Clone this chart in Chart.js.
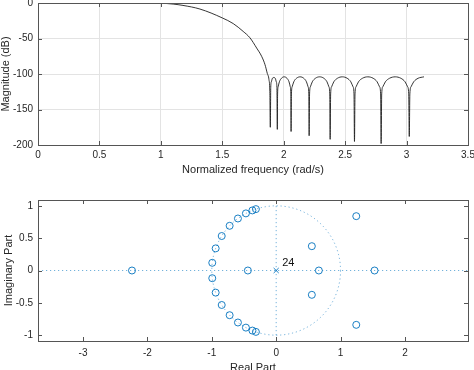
<!DOCTYPE html>
<html><head><meta charset="utf-8">
<script src="https://cdn.jsdelivr.net/npm/chart.js@4"></script>
<style>
html,body{margin:0;padding:0;background:#fff;overflow:hidden;width:474px;height:370px}
canvas{position:absolute;left:0}
</style></head><body>
<canvas id="mag" width="474" height="185" style="top:0"></canvas>
<canvas id="pz" width="474" height="185" style="top:185px"></canvas>
<script>
// ---- Magnitude response ----
const freq = [0, 0.5, 0.9, 1.0, 1.1, 1.18, 1.318, 1.5, 1.589, 1.67, 1.725, 1.78, 1.82, 1.848, 1.866, 1.88, 1.887, 1.891,
  1.8944, 1.8996, 1.908, 1.9195, 1.931, 1.9394, 1.9446, 1.948,
  1.9502, 1.9547, 1.9648, 1.9816, 2.004, 2.0264, 2.0432, 2.0533, 2.0578, 2.060,
  2.0629, 2.0688, 2.082, 2.104, 2.1335, 2.163, 2.185, 2.1982, 2.2041, 2.207,
  2.2104, 2.2173, 2.2327, 2.2583, 2.2925, 2.3267, 2.3523, 2.3677, 2.3746, 2.378,
  2.382, 2.3899, 2.4077, 2.4374, 2.477, 2.5166, 2.5463, 2.5641, 2.572, 2.576,
  2.5803, 2.589, 2.6086, 2.6411, 2.6845, 2.7279, 2.7604, 2.78, 2.7887, 2.793,
  2.7976, 2.8067, 2.8274, 2.8617, 2.9075, 2.9533, 2.9876, 3.0083, 3.0174, 3.022,
  3.0268, 3.0364, 3.058, 3.094, 3.1416];
const magDb = [0, 0, 0, -0.3, -1.5, -3.4, -8.5, -21, -29, -40, -49, -63.5, -75, -87, -99, -108, -125, -175,
  -119, -111, -106, -105, -106, -111, -119, -178,
  -128, -118, -111, -106, -104, -106, -111, -118, -128, -181,
  -128, -118, -111, -106, -104, -106, -111, -118, -128, -187,
  -128, -118, -111, -106, -104, -106, -111, -118, -128, -192,
  -128, -118, -111, -106, -104, -106, -111, -118, -128, -195,
  -128, -118, -111, -106, -104, -106, -111, -118, -128, -198,
  -128, -118, -111, -106, -104, -106, -111, -118, -128, -188,
  -128, -118, -111, -106, -104];
const magXTicks = [0, 0.5, 1, 1.5, 2, 2.5, 3, 3.5];
const magYTicks = [-200, -150, -100, -50, 0];

// ---- Pole-zero plot ----
const zeroRe = [-2.24, -0.44, 0.663, 1.528, 1.244, 1.244, 0.554, 0.554,
  -0.315, -0.315, -0.369, -0.369, -0.470, -0.470, -0.594, -0.594,
  -0.723, -0.723, -0.846, -0.846, -0.940, -0.940, -0.993, -0.993];
const zeroIm = [0, 0, 0, 0, 0.84, -0.84, 0.376, -0.376,
  0.949, -0.949, 0.929, -0.929, 0.883, -0.883, 0.804, -0.804,
  0.691, -0.691, 0.533, -0.533, 0.342, -0.342, 0.119, -0.119];
const poleRe = [0];
const poleIm = [0];
const poleLabel = ['24'];
const pzXTicks = [-3, -2, -1, 0, 1, 2];
const pzYTicks = [-1, -0.5, 0, 0.5, 1];
const pzXRange = [-3.7, 2.98];
const pzYRange = [-1.09, 1.09];
const unitRadius = 1;

const FONT = '"Liberation Sans", Arial, Helvetica, sans-serif';
const TEXT = '#262626';
const AXIS = '#555555';
const GRID = '#e3e3e3';
const BLUE = '#0072BD';
const DOT = 'rgba(0,114,189,0.55)';

function boxTicks(len) {
  return {
    id: 'boxTicks',
    afterDraw(chart) {
      const {ctx, chartArea: a, scales: {x, y}} = chart;
      ctx.save();
      ctx.strokeStyle = AXIS;
      ctx.lineWidth = 1;
      ctx.beginPath();
      x.ticks.forEach(t => {
        const px = Math.round(x.getPixelForValue(t.value)) + 0.5;
        if (px < a.left + 1 || px > a.right - 1) return;
        ctx.moveTo(px, a.bottom); ctx.lineTo(px, a.bottom - len);
        ctx.moveTo(px, a.top); ctx.lineTo(px, a.top + len);
      });
      y.ticks.forEach(t => {
        const py = Math.round(y.getPixelForValue(t.value)) + 0.5;
        if (py < a.top + 1 || py > a.bottom - 1) return;
        ctx.moveTo(a.left, py); ctx.lineTo(a.left + len, py);
        ctx.moveTo(a.right, py); ctx.lineTo(a.right - len, py);
      });
      ctx.stroke();
      ctx.strokeRect(Math.round(a.left) + 0.5, Math.round(a.top) + 0.5,
        Math.round(a.right - a.left), Math.round(a.bottom - a.top));
      ctx.restore();
    }
  };
}

function fixTicks(arr) { return s => { s.ticks = arr.map(v => ({value: v})); }; }
const tickFont = {family: FONT, size: 10};
const titleFont = {family: FONT, size: 11, lineHeight: 1};

new Chart(document.getElementById('mag'), {
  type: 'line',
  data: {datasets: [{
    data: freq.map((f, i) => ({x: f, y: magDb[i]})),
    borderColor: '#1f1f1f', borderWidth: 0.9, pointRadius: 0,
    cubicInterpolationMode: 'monotone', fill: false
  }]},
  options: {
    responsive: false, animation: false, events: [],
    layout: {padding: {top: 3, right: 6, left: 0, bottom: 0}},
    plugins: {legend: {display: false}, tooltip: {enabled: false}},
    scales: {
      x: {
        type: 'linear', min: 0, max: 3.5,
        afterBuildTicks: fixTicks(magXTicks),
        afterFit: s => { s.height = 40; s.paddingLeft = 0; s.paddingRight = 0; },
        ticks: {color: TEXT, font: tickFont, padding: 4, maxRotation: 0, autoSkip: false, callback: v => String(v)},
        grid: {color: GRID, drawTicks: false, lineWidth: 1},
        border: {display: false},
        title: {display: true, text: 'Normalized frequency (rad/s)', color: TEXT, font: titleFont, padding: {top: 0, bottom: 9.5}}
      },
      y: {
        type: 'linear', min: -200, max: 0,
        afterBuildTicks: fixTicks(magYTicks),
        afterFit: s => { s.width = 38; s.paddingTop = 0; s.paddingBottom = 0; },
        ticks: {color: TEXT, font: tickFont, padding: 5, autoSkip: false, callback: v => String(v)},
        grid: {color: GRID, drawTicks: false, lineWidth: 1},
        border: {display: false},
        title: {display: true, text: 'Magnitude (dB)', color: TEXT, font: titleFont, padding: {top: 0, bottom: 0}}
      }
    }
  },
  plugins: [boxTicks(4)]
});

const pzDecor = {
  id: 'pzDecor',
  beforeDatasetsDraw(chart) {
    const {ctx, scales: {x, y}} = chart;
    const cx = x.getPixelForValue(0), cy = y.getPixelForValue(0);
    const rx = x.getPixelForValue(unitRadius) - cx, ry = cy - y.getPixelForValue(unitRadius);
    ctx.save();
    ctx.strokeStyle = DOT; ctx.lineWidth = 1; ctx.setLineDash([1.2, 2.8]);
    ctx.beginPath(); ctx.ellipse(cx, cy, rx, ry, 0, 0, Math.PI * 2); ctx.stroke();
    ctx.restore();
  },
  afterDatasetsDraw(chart) {
    const {ctx, scales: {x, y}} = chart;
    ctx.save();
    ctx.fillStyle = '#111';
    ctx.font = '11px ' + FONT;
    ctx.textBaseline = 'middle'; ctx.textAlign = 'left';
    poleRe.forEach((re, i) => {
      ctx.fillText(poleLabel[i], x.getPixelForValue(re) + 6, y.getPixelForValue(poleIm[i]) - 8);
    });
    ctx.restore();
  }
};

new Chart(document.getElementById('pz'), {
  type: 'scatter',
  data: {datasets: [
    {data: zeroRe.map((r, i) => ({x: r, y: zeroIm[i]})), pointStyle: 'circle', pointRadius: 3.5,
      borderColor: BLUE, backgroundColor: 'rgba(0,0,0,0)', borderWidth: 0.9, showLine: false, order: 0},
    {data: poleRe.map((r, i) => ({x: r, y: poleIm[i]})), pointStyle: 'crossRot', pointRadius: 3.6,
      borderColor: BLUE, borderWidth: 0.9, showLine: false, order: 0},
    {data: [{x: pzXRange[0], y: 0}, {x: pzXRange[1], y: 0}], showLine: true, pointRadius: 0,
      borderColor: DOT, borderWidth: 1, borderDash: [1.2, 2.8], order: 2},
    {data: [{x: 0, y: -unitRadius}, {x: 0, y: unitRadius}], showLine: true, pointRadius: 0,
      borderColor: DOT, borderWidth: 1, borderDash: [1.2, 2.8], order: 2}
  ]},
  options: {
    responsive: false, animation: false, events: [],
    layout: {padding: {top: 15, right: 6, left: 0, bottom: 0}},
    plugins: {legend: {display: false}, tooltip: {enabled: false}},
    scales: {
      x: {
        type: 'linear', min: pzXRange[0], max: pzXRange[1],
        afterBuildTicks: fixTicks(pzXTicks),
        afterFit: s => { s.height = 29; s.paddingLeft = 0; s.paddingRight = 0; },
        ticks: {color: TEXT, font: tickFont, padding: 6, maxRotation: 0, autoSkip: false, callback: v => String(v)},
        grid: {display: false, drawTicks: false},
        border: {display: false},
        title: {display: true, text: 'Real Part', color: TEXT, font: titleFont, padding: {top: 0, bottom: -3}}
      },
      y: {
        type: 'linear', min: pzYRange[0], max: pzYRange[1],
        afterBuildTicks: fixTicks(pzYTicks),
        afterFit: s => { s.width = 38; s.paddingTop = 0; s.paddingBottom = 0; },
        ticks: {color: TEXT, font: tickFont, padding: 5, autoSkip: false, callback: v => String(v)},
        grid: {display: false, drawTicks: false},
        border: {display: false},
        title: {display: true, text: 'Imaginary Part', color: TEXT, font: titleFont, padding: {top: 3, bottom: 0}}
      }
    }
  },
  plugins: [pzDecor, boxTicks(4)]
});
</script>
</body></html>
